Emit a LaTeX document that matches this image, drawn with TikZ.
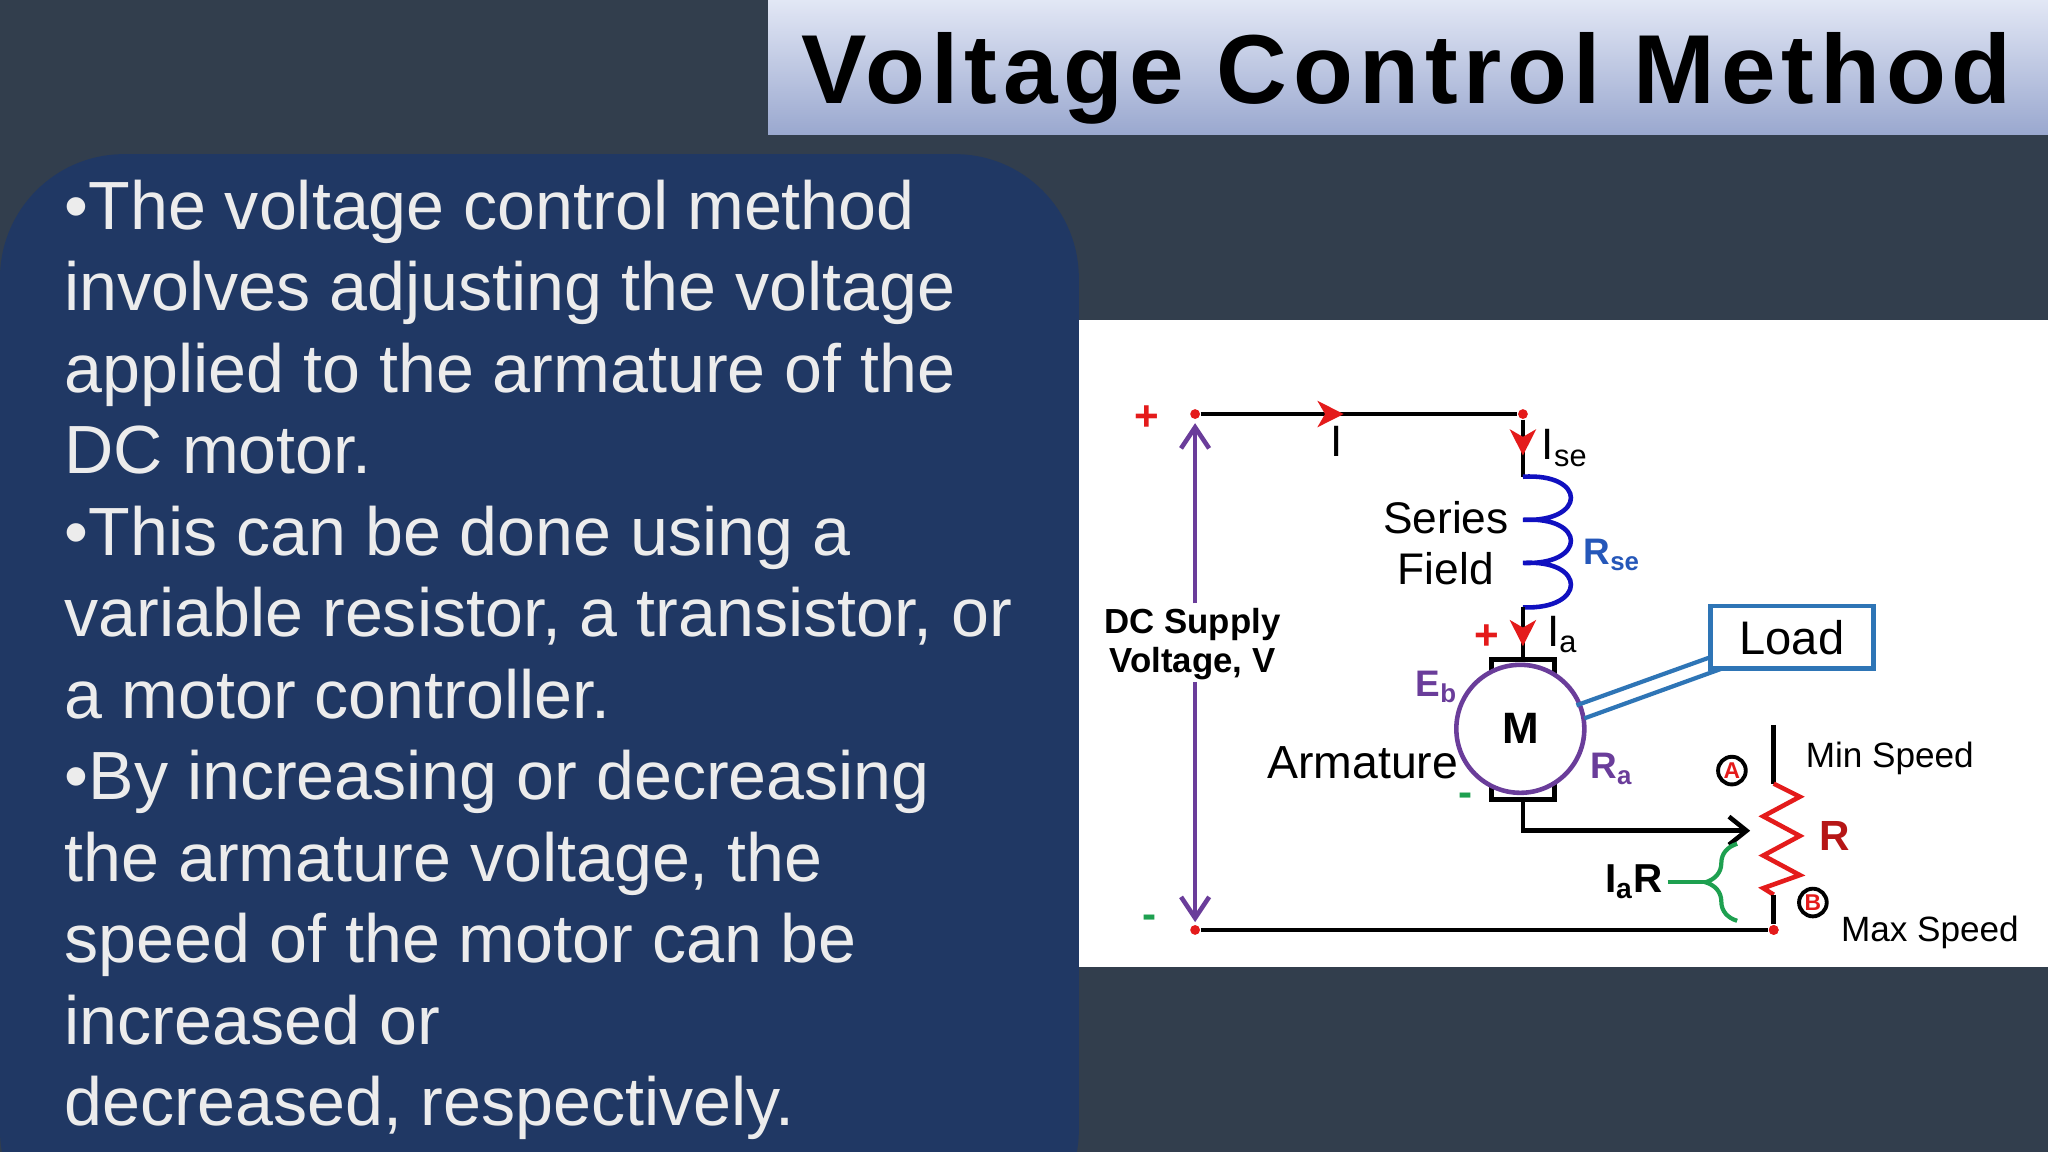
\documentclass[tikz,border=0pt]{standalone}
\usepackage{fontspec}
\setmainfont{Liberation Sans}
\usetikzlibrary{arrows.meta,decorations.pathreplacing,shapes.geometric}
\definecolor{bg}{HTML}{323E4D}
\definecolor{panel}{HTML}{203864}
\definecolor{titletop}{HTML}{E2E7F5}
\definecolor{titlebot}{HTML}{9AA8CF}
\definecolor{txt}{HTML}{ECECEC}
\definecolor{wred}{HTML}{E41B1B}
\definecolor{coil}{HTML}{1010C0}
\definecolor{purp}{HTML}{6A3D9A}
\definecolor{loadb}{HTML}{2E75B6}
\definecolor{grn}{HTML}{1EA050}
\tikzset{
  dot/.style={circle,fill=wred,inner sep=0pt,minimum size=7.5*0.01306cm},
  wire/.style={line width=1.3pt,black},
  lbl/.style={font=\fontsize{12.5}{14}\selectfont,inner sep=0pt},
  chev/.pic={\fill[wred] (2.5pt,0) -- (-5pt,3.8pt) -- (-2.8pt,0) -- (-5pt,-3.8pt) -- cycle;},
  encl/.style={circle,draw=black,line width=1.1pt,inner sep=0.5pt,text=wred,font=\bfseries\fontsize{6.5}{7}\selectfont}
}
\begin{document}
\begin{tikzpicture}[x=0.01306cm,y=-0.01306cm]
\fill[bg] (0,0) rectangle (1568,882);
\useasboundingbox (0,0) rectangle (1568,882);
% title
\shade[top color=titletop,bottom color=titlebot] (588,0) rectangle (1568,103);
\node[text=black,anchor=base,inner sep=0pt] (title) at (1077,79) {\resizebox{12.1cm}{!}{\bfseries\fontsize{30}{34}\selectfont\addfontfeature{LetterSpace=6}Voltage Control Method}};
% left panel
\fill[panel,rounded corners=95*0.01306cm] (0,118) rectangle (826,960);
\node[anchor=north west,text=txt,align=left,inner sep=0pt,font=\fontsize{19.4}{23.2}\selectfont] (body) at (49,137) {%
•The voltage control method\\
involves adjusting the voltage\\
applied to the armature of the\\
DC motor.\\
•This can be done using a\\
variable resistor, a transistor, or\\
a motor controller.\\
•By increasing or decreasing\\
the armature voltage, the\\
speed of the motor can be\\
increased or\\
decreased, respectively.};
% white image
\fill[white] (826,245) rectangle (1568,740);
% nodes
\node[dot] (tl) at (915,317) {};
\node[dot] (tr) at (1166,317) {};
\node[dot] (br) at (1358,712) {};
\node[dot] (bl) at (915,712) {};
\coordinate (ctop) at (1166,365);
\coordinate (cbot) at (1166,465);
\coordinate (mtop) at (1166,505);
\coordinate (mbot) at (1166,612);
\coordinate (wip) at (1340,636);
\coordinate (rtop) at (1358,555);
\coordinate (rz1) at (1358,600);
\coordinate (rz2) at (1358,685);
% wires
\draw[wire] (tl) -- (tr);
\draw[wire] (tr) -- (ctop);
\draw[coil,line width=1.3pt] (ctop) .. controls (1215,362) and (1215,400) .. (1166,398)
  .. controls (1215,395) and (1215,433) .. (1166,431)
  .. controls (1215,428) and (1215,467) .. (1166,465);
\draw[wire] (cbot) -- (mtop);
\draw[wire] (mtop) -- (1142,505) -- (1142,520) (mtop) -- (1190,505) -- (1190,520);
\draw[wire] (1142,596) -- (1142,612) -- (1190,612) -- (1190,596);
\node[circle,draw=purp,line width=1.3pt,fill=white,minimum size=98*0.01306cm,inner sep=0pt,font=\bfseries\fontsize{12.5}{13}\selectfont] (M) at (1164,558) {M};
\draw[wire,-{Straight Barb[length=5pt,width=8pt]}] (mbot) -- (1166,636) -- (wip);
\draw[wire] (bl) -- (br);
\draw[wire] (rtop) -- (rz1);
\draw[wred,line width=1.3pt] (rz1) -- (1378,610) -- (1350,625) -- (1378,640) -- (1350,655) -- (1378,670) -- (1350,680) -- (rz2);
\draw[wire] (rz2) -- (br);
\node[dot] at (br) {};
% red chevrons
\pic at (1022,317) {chev};
\pic[rotate=-90] at (1166,342) {chev};
\pic[rotate=-90] at (1166,488) {chev};
% load
\node[draw=loadb,line width=1.3pt,minimum width=125*0.01306cm,minimum height=48*0.01306cm,lbl,font=\fontsize{13.4}{14}\selectfont] (load) at (1372,488) {Load};
\draw[loadb,line width=1.2pt] (1207,540) -- (1310,503) (1213,550) -- (1318,512);
% supply arrow
\node[font=\bfseries\fontsize{9.9}{11}\selectfont,align=center,inner sep=0pt] (dcs) at (913,493) {DC Supply\\Voltage, V};
\draw[purp,line width=1.3pt,-{Straight Barb[length=6pt,width=8pt]}] (915,462) -- (915,324);
\draw[purp,line width=1.3pt,-{Straight Barb[length=6pt,width=8pt]}] (915,522) -- (915,706);
% labels
\node[text=wred,font=\bfseries\fontsize{12}{12}\selectfont] (p1) at (878,320) {+};
\node[text=grn,font=\bfseries\fontsize{12}{12}\selectfont] (m1) at (880,706) {-};
\node[text=wred,font=\bfseries\fontsize{12}{12}\selectfont] (p2) at (1138,488) {+};
\node[text=grn,font=\bfseries\fontsize{12}{12}\selectfont] (m2) at (1122,612) {-};
\node[lbl] (lI) at (1023,338) {I};
\node[lbl,anchor=west] (lIse) at (1180,343) {I\textsubscript{se}};
\node[lbl,anchor=west] (lIa) at (1184,486) {I\textsubscript{a}};
\node[lbl,align=center,font=\fontsize{12.6}{14.5}\selectfont] (sf) at (1107,416) {Series\\Field};
\node[lbl,text=loadb!70!coil,font=\bfseries\fontsize{10.5}{11}\selectfont,anchor=west] (rse) at (1212,425) {R\textsubscript{se}};
\node[lbl,text=purp,font=\bfseries\fontsize{10.5}{11}\selectfont] (eb) at (1100,526) {E\textsubscript{b}};
\node[lbl,text=purp,font=\bfseries\fontsize{10.5}{11}\selectfont] (ra) at (1234,589) {R\textsubscript{a}};
\node[lbl,anchor=east,font=\fontsize{13.2}{14}\selectfont] (arm) at (1117,584) {Armature};
\node[lbl,text=wred!80!black,font=\bfseries\fontsize{12}{12}\selectfont] (R) at (1405,640) {R};
\node[encl] (A) at (1326,590) {A};
\node[encl] (B) at (1388,691) {B};
\node[lbl,font=\fontsize{10}{11}\selectfont,anchor=west] (mins) at (1382,581) {Min Speed};
\node[lbl,font=\fontsize{10}{11}\selectfont,anchor=west] (maxs) at (1409,714) {Max Speed};
\node[lbl,font=\bfseries\fontsize{11.5}{12}\selectfont] (iar) at (1251,675) {I\textsubscript{a}R};
\draw[grn,line width=1.2pt,decorate,decoration={brace,amplitude=9pt}] (1330,705) -- (1330,646);
\draw[grn,line width=1.2pt] (iar.east) ++(3,0) -- (1306,675);
\end{tikzpicture}
\end{document}
